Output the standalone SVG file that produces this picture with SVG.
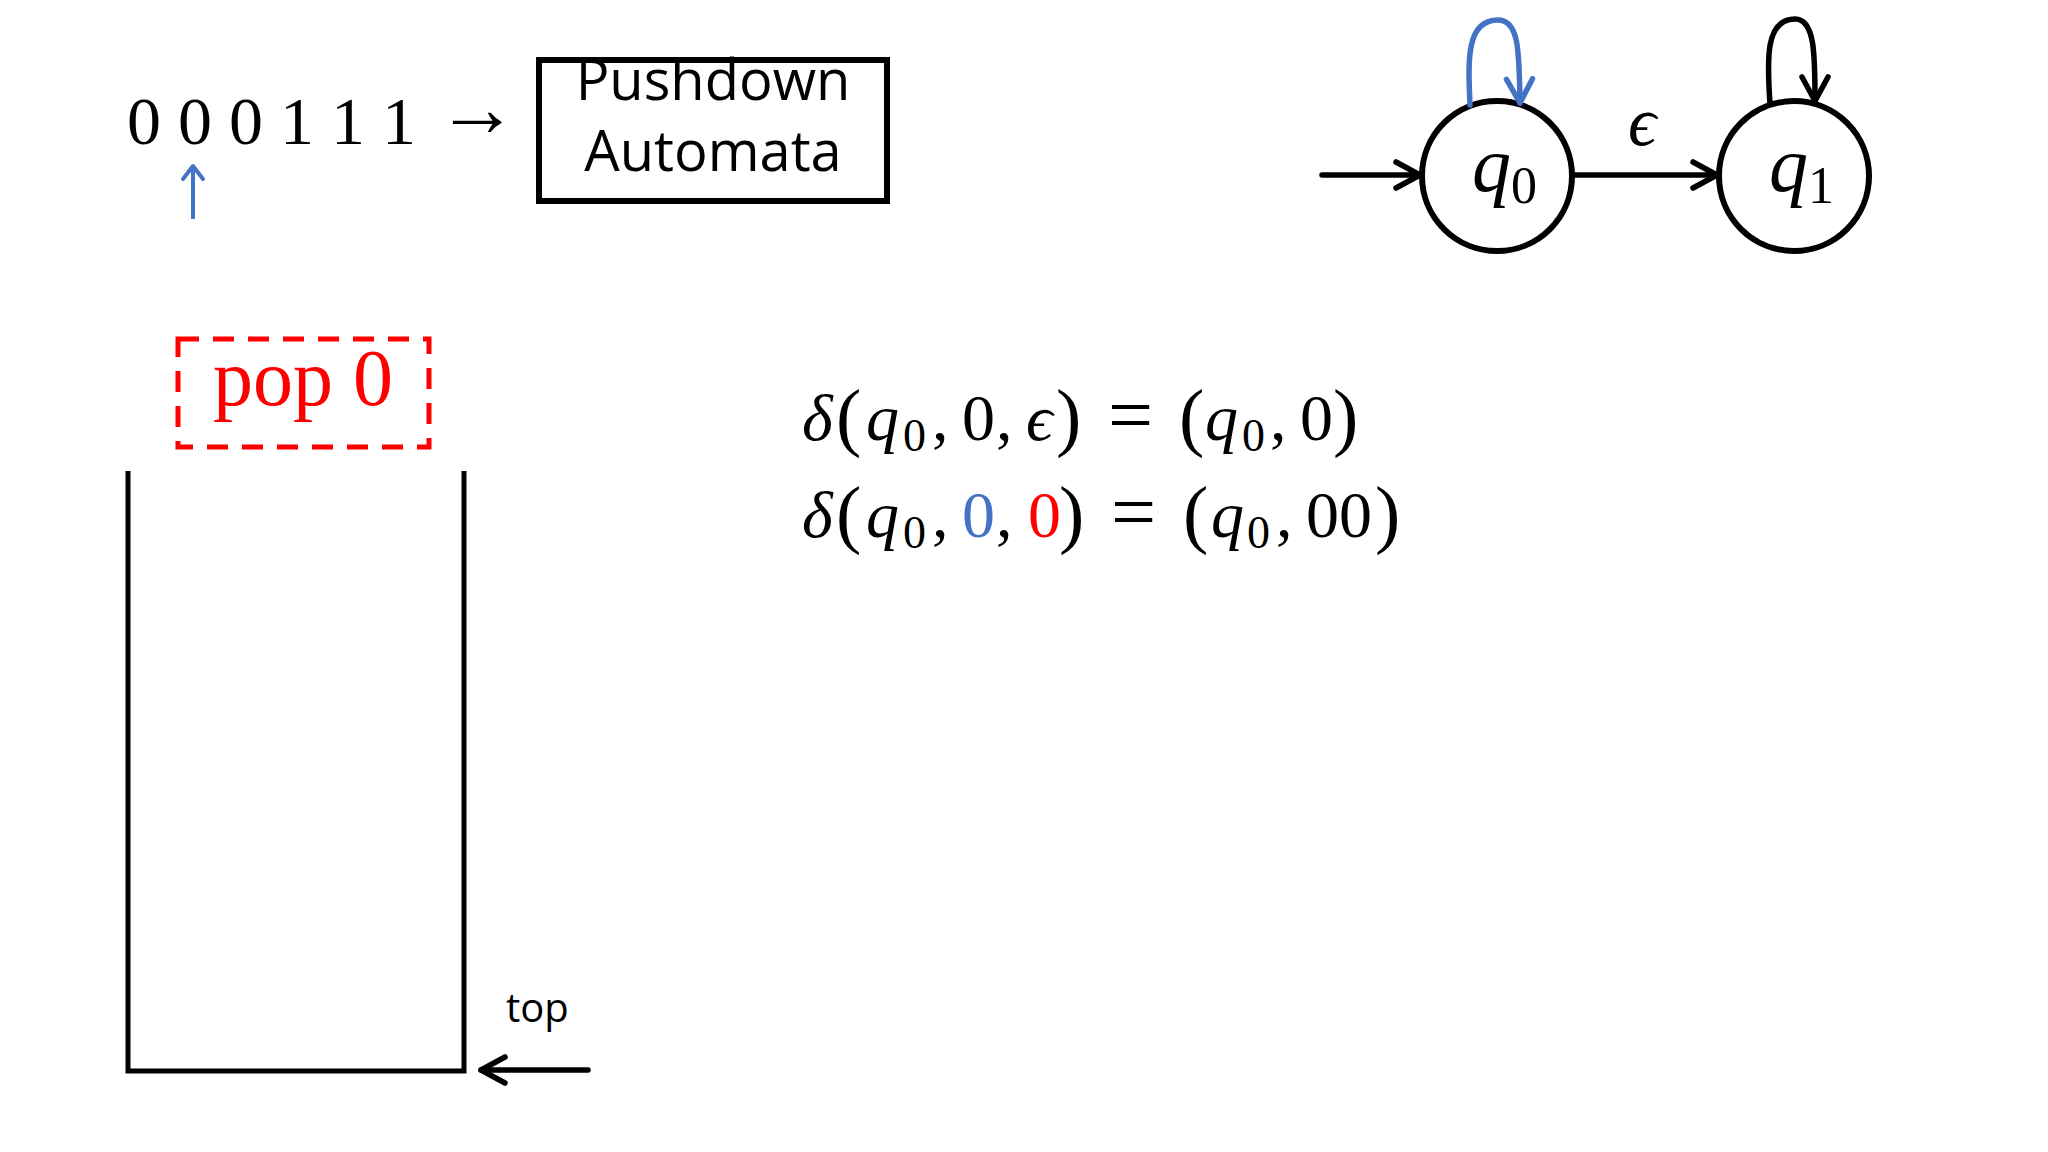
<svg xmlns="http://www.w3.org/2000/svg" width="2048" height="1152" viewBox="0 0 2048 1152">
<style>
.serif{font-family:"Liberation Serif","DejaVu Serif",serif;}
.sans{font-family:"Open Sans","Noto Sans","Liberation Sans",sans-serif;}
.it{font-style:italic;}
.ln{fill:none;stroke:#000;stroke-width:5.5;stroke-linecap:round;stroke-linejoin:round;}
.bl{stroke:#4472C4;}
.state{fill:#fff;stroke:#000;stroke-width:6;}
</style>
<defs>
<marker id="ah" markerUnits="userSpaceOnUse" markerWidth="40" markerHeight="40" refX="28" refY="20" orient="auto">
<path d="M4,7 L28,20 L4,33" fill="none" stroke="#000" stroke-width="5.5" stroke-linecap="round" stroke-linejoin="round"/>
</marker>
<marker id="ahb" markerUnits="userSpaceOnUse" markerWidth="40" markerHeight="40" refX="28" refY="20" orient="auto">
<path d="M4,7 L28,20 L4,33" fill="none" stroke="#4472C4" stroke-width="5.5" stroke-linecap="round" stroke-linejoin="round"/>
</marker>
<marker id="ahs" markerUnits="userSpaceOnUse" markerWidth="30" markerHeight="30" refX="17" refY="15" orient="auto">
<path d="M4,5 L17,15 L4,25" fill="none" stroke="#4472C4" stroke-width="4" stroke-linecap="round" stroke-linejoin="round"/>
</marker>
</defs>
<rect width="2048" height="1152" fill="#fff"/>

<g id="input">
<text class="serif" x="127" y="144" font-size="68">0 0 0 1 1 1</text>
<text class="serif" x="436" y="136" font-size="82">→</text>
<line x1="193" y1="219" x2="193" y2="166" stroke="#4472C4" stroke-width="4" marker-end="url(#ahs)"/>
</g>

<g id="pda">
<text class="sans" x="713" y="100" font-size="56" text-anchor="middle">Pushdown</text>
<text class="sans" x="713" y="171" font-size="56" text-anchor="middle">Automata</text>
<rect x="539" y="60" width="348" height="141" fill="none" stroke="#000" stroke-width="6"/>
</g>

<g id="q0">
<circle class="state" cx="1497" cy="176" r="75"/>
<text class="serif" x="1472" y="191" font-size="78"><tspan class="it">q</tspan><tspan font-size="52" dy="12">0</tspan></text>
</g>
<g id="q1">
<circle class="state" cx="1794" cy="176" r="75"/>
<text class="serif" x="1769" y="191" font-size="78"><tspan class="it">q</tspan><tspan font-size="52" dy="12">1</tspan></text>
</g>

<g id="connectors">
<line class="ln" x1="1322" y1="175" x2="1420" y2="175" marker-end="url(#ah)"/>
<line class="ln" x1="1572" y1="175" x2="1717" y2="175" marker-end="url(#ah)"/>
<path class="ln bl" d="M1470,105 C1468,60 1466,20 1498,20 C1520,20 1519,55 1520,103" marker-end="url(#ahb)"/>
<path class="ln" d="M1770,104 C1767,60 1765,19 1795,19 C1815,19 1815,55 1815,101" marker-end="url(#ah)"/>
<line class="ln" x1="588" y1="1070" x2="481" y2="1070" marker-end="url(#ah)"/>
</g>
<text class="serif it" x="1628" y="145" font-size="70">ϵ</text>

<g id="pop">
<rect x="178" y="339" width="251" height="108" fill="none" stroke="#FF0000" stroke-width="5" stroke-dasharray="21,14"/>
<text class="serif" x="213" y="405" font-size="80" fill="#FF0000">pop 0</text>
</g>

<g id="stack">
<path d="M128,471 L128,1071 L464,1071 L464,471" fill="none" stroke="#000" stroke-width="5"/>
<text class="sans" x="506" y="1022" font-size="40">top</text>
</g>

<g id="eq1" class="serif" font-size="66">
<text x="802" y="440" class="it">δ</text>
<text x="836" y="442" font-size="76">(</text>
<text x="866" y="440" class="it">q</text>
<text x="903" y="451" font-size="46">0</text>
<text x="932" y="440">,</text>
<text x="962" y="440">0</text>
<text x="996" y="440">,</text>
<text x="1026" y="440" class="it">ϵ</text>
<text x="1056" y="442" font-size="76">)</text>
<text x="1108" y="442" font-size="80">=</text>
<text x="1179" y="442" font-size="76">(</text>
<text x="1205" y="440" class="it">q</text>
<text x="1242" y="451" font-size="46">0</text>
<text x="1270" y="440">,</text>
<text x="1300" y="440">0</text>
<text x="1333" y="442" font-size="76">)</text>
</g>
<g id="eq2" class="serif" font-size="66">
<text x="802" y="537" class="it">δ</text>
<text x="836" y="539" font-size="76">(</text>
<text x="866" y="537" class="it">q</text>
<text x="903" y="548" font-size="46">0</text>
<text x="932" y="537">,</text>
<text x="962" y="537" fill="#4472C4">0</text>
<text x="996" y="537">,</text>
<text x="1028" y="537" fill="#FF0000">0</text>
<text x="1059" y="539" font-size="76">)</text>
<text x="1111" y="539" font-size="80">=</text>
<text x="1183" y="539" font-size="76">(</text>
<text x="1211" y="537" class="it">q</text>
<text x="1247" y="548" font-size="46">0</text>
<text x="1276" y="537">,</text>
<text x="1306" y="537">00</text>
<text x="1375" y="539" font-size="76">)</text>
</g>
</svg>
